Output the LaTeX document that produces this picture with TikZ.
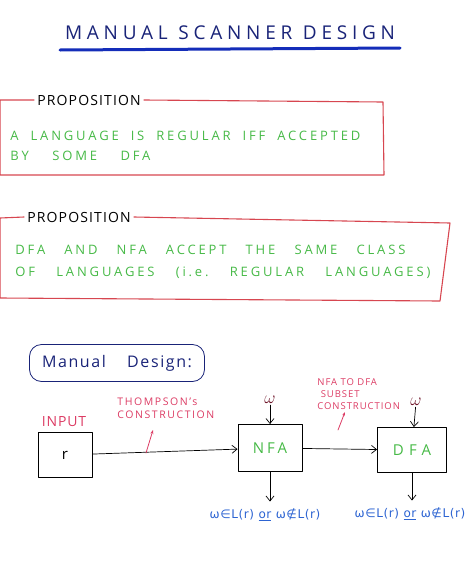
\documentclass[tikz,border=0pt]{standalone}
\usepackage{fontspec}
\setmainfont{Open Sans}
\newfontfamily\symbfont{DejaVu Sans}
\usetikzlibrary{arrows.meta}
\definecolor{titleblue}{RGB}{25,35,120}
\definecolor{lineblue}{RGB}{20,45,185}
\definecolor{boxred}{RGB}{215,70,80}
\definecolor{propgreen}{RGB}{70,185,70}
\definecolor{notered}{RGB}{220,60,100}
\definecolor{resblue}{RGB}{45,100,210}
\definecolor{omegared}{RGB}{110,20,40}
\newcommand{\spread}[2]{\makebox[#1pt][s]{\frenchspacing#2}}

\begin{document}
\begin{tikzpicture}[x=1pt,y=-1pt,line cap=round,line join=round,thick]
	\tikzstyle{head}=[inner sep=3pt,font=\fontsize{14}{16}\selectfont\addfontfeatures{LetterSpace=8}];
	\tikzstyle{propline}=[propgreen,inner sep=0pt,anchor=west,font=\fontsize{13}{15}\selectfont\addfontfeatures{LetterSpace=22}];
	\tikzstyle{boxline}=[boxred,line width=1.1pt];
	\tikzstyle{block}=[draw,black,line width=0.9pt,inner sep=0pt];
	\tikzstyle{note}=[notered,inner sep=1pt,align=left,font=\fontsize{10.5}{13}\selectfont\addfontfeatures{LetterSpace=15}];
	\tikzstyle{result}=[resblue,inner sep=1pt,font=\symbfont\fontsize{12}{14}\selectfont\addfontfeatures{LetterSpace=5}];
	\tikzstyle{flow}=[line width=0.7pt,-{Straight Barb[length=5pt,width=8pt]}];
	\tikzstyle{hint}=[notered,line width=0.8pt,-{Stealth[length=4pt]}];

	\useasboundingbox (0,0) rectangle (474,568);

	% title
	\node[titleblue,inner sep=0pt,font=\fontsize{19}{22}\selectfont\addfontfeatures{LetterSpace=25}] (title) at (230,33) {\spread{330}{MANUAL SCANNER DESIGN}};
	\draw[lineblue,line width=3pt] (60,50) -- (400,48);

	% first proposition
	\node[head,anchor=west] (head1) at (34,100) {PROPOSITION};
	\draw[boxline] (head1.east) -- (383,102) -- (384,175) -- (0,175) -- (0,100) -- (head1.west);
	\node[propline] (p1a) at (10,136) {\spread{350}{A LANGUAGE IS REGULAR IFF ACCEPTED}};
	\node[propline] (p1b) at (10,156) {\spread{140}{BY SOME DFA}};

	% second proposition
	\node[head,anchor=west] (head2) at (24,217) {PROPOSITION};
	\draw[boxline] (head2.east) -- (450,223) -- (440,301) -- (0,298) -- (0,218) -- (head2.west);
	\node[propline] (p2a) at (15,250) {\spread{390}{DFA AND NFA ACCEPT THE SAME CLASS}};
	\node[propline] (p2b) at (15,273) {\spread{415}{OF LANGUAGES (i.e. REGULAR LANGUAGES)}};

	% manual design
	\node[draw=resblue!80!black,rounded corners=12pt,minimum width=175pt,minimum height=37pt,
	      titleblue,font=\fontsize{16}{18}\selectfont\addfontfeatures{LetterSpace=10}] (manual) at (117,363) {\spread{150}{Manual Design:}};

	\node[notered,font=\fontsize{14}{16}\selectfont\addfontfeatures{LetterSpace=6}] (inlabel) at (64,422) {INPUT};
	\node[block,minimum width=54pt,minimum height=45pt,font=\fontsize{15}{17}\selectfont] (input) at (65,455) {r};
	\node[block,minimum width=64pt,minimum height=47pt,propgreen,draw=black,font=\fontsize{15}{17}\selectfont\addfontfeatures{LetterSpace=20}] (nfa) at (270,448) {NFA};
	\node[block,minimum width=69pt,minimum height=45pt,propgreen,draw=black,font=\fontsize{15}{17}\selectfont\addfontfeatures{LetterSpace=35}] (dfa) at (412,450) {DFA};

	\draw[flow] (input) -- (nfa);
	\draw[flow] (nfa) -- (dfa);

	% constructions
	\node[note,anchor=west] (thompson) at (116,408) {THOMPSON's\\CONSTRUCTION};
	\coordinate (tfoot) at (146,453);
	\draw[hint] (tfoot) -- (153,430);
	\node[note,anchor=west,font=\fontsize{9.5}{12}\selectfont\addfontfeatures{LetterSpace=10}] (subset) at (316,394) {NFA TO DFA\\\ SUBSET\\CONSTRUCTION};
	\coordinate (sfoot) at (338,430);
	\draw[hint] (sfoot) -- (345,412);

	% words in and answers out
	\node[omegared,inner sep=1pt,font=\fontsize{19}{21}\selectfont] (w1) at (270,400) {$\omega$};
	\node[omegared,inner sep=1pt,font=\fontsize{19}{21}\selectfont] (w2) at (416,402) {$\omega$};
	\draw[flow] (w1) -- (nfa);
	\draw[flow] (w2) -- (dfa);

	\node[result] (res1) at (265,515) {ω∈L(r) \underline{or} ω∉L(r)};
	\node[result] (res2) at (410,514) {ω∈L(r) \underline{or} ω∉L(r)};
	\draw[flow,shorten >=6pt] (nfa) -- (nfa |- res1.north);
	\draw[flow,shorten >=6pt] (dfa) -- (dfa |- res2.north);
\end{tikzpicture}
\end{document}
